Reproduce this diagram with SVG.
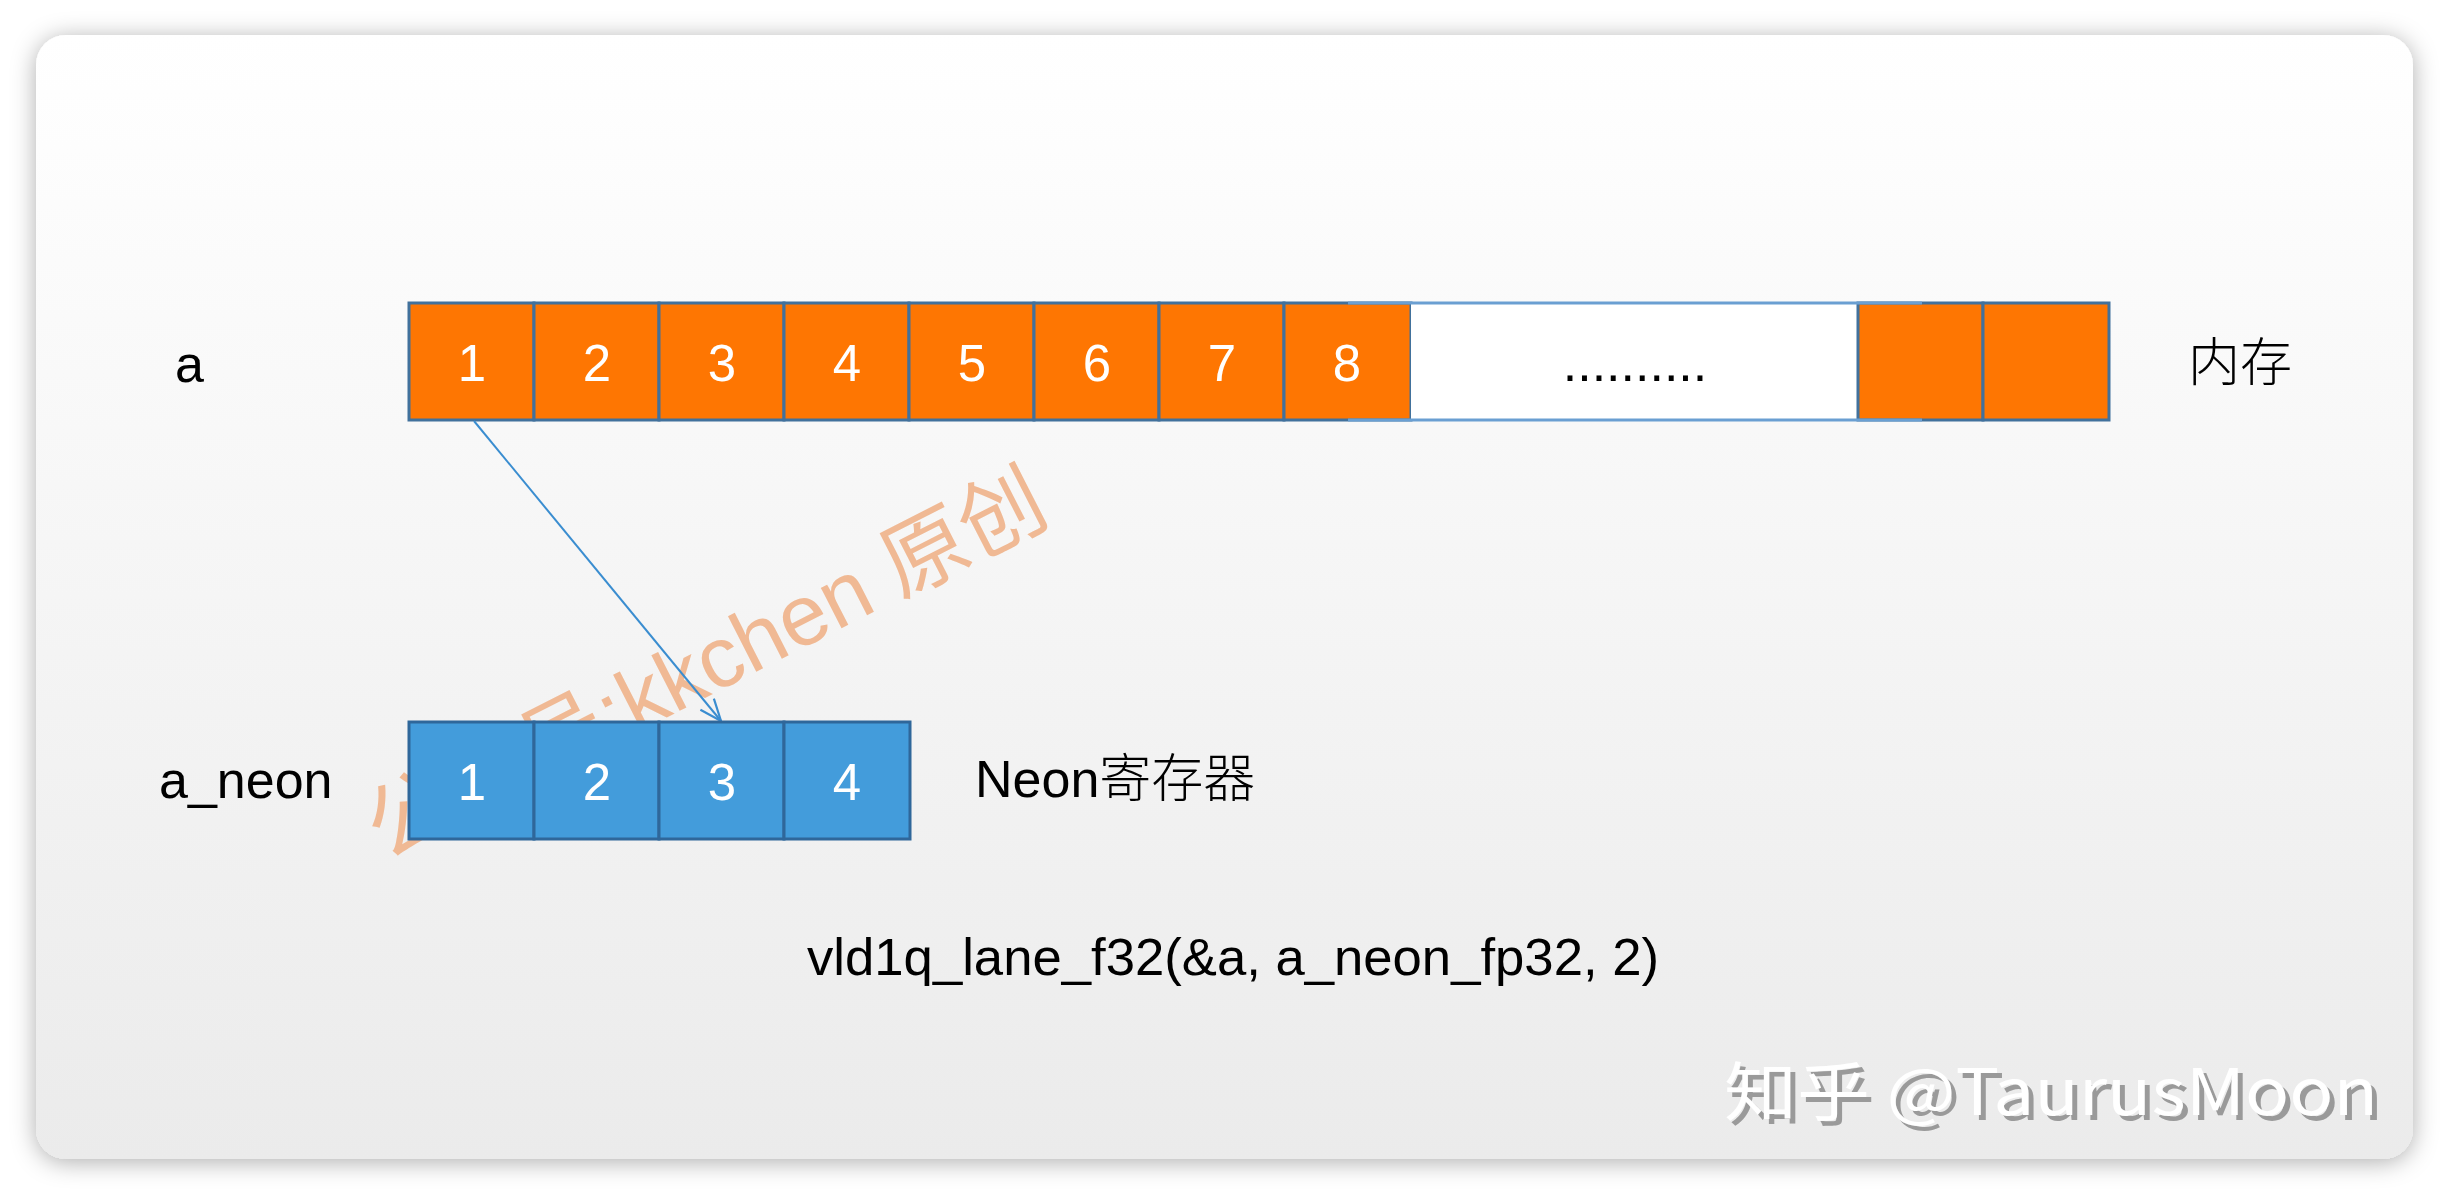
<svg xmlns="http://www.w3.org/2000/svg" width="2450" height="1196" viewBox="0 0 2450 1196">
<defs>
<linearGradient id="bg" x1="0" y1="0" x2="0" y2="1">
<stop offset="0" stop-color="#ffffff"/>
<stop offset="1" stop-color="#ebebeb"/>
</linearGradient>
<filter id="shadow" x="-5%" y="-10%" width="110%" height="120%">
<feDropShadow dx="0" dy="3" stdDeviation="12" flood-color="#000" flood-opacity="0.32"/>
</filter>
<filter id="tshadow" x="-5%" y="-20%" width="110%" height="140%">
<feDropShadow dx="5" dy="5" stdDeviation="0.6" flood-color="#9a9a9a" flood-opacity="1"/>
</filter>
<marker id="ah" markerUnits="userSpaceOnUse" markerWidth="24" markerHeight="20" viewBox="0 0 22 18" refX="21" refY="9" orient="auto">
<path d="M1,1 L21,9 L1,17" fill="none" stroke="#3a8dd0" stroke-width="2"/>
</marker>
<style>
.lbl{font-family:"Liberation Sans",Arial,"Noto Sans CJK SC",sans-serif;font-size:52px;fill:#000}
.num{font-family:"Liberation Sans",Arial,sans-serif;font-size:51px;fill:#fff;text-anchor:middle}
.or{fill:#fe7602;stroke:#41719c;stroke-width:3}
.bl{fill:#439cdb;stroke:#2f679a;stroke-width:3}
.cjk{font-family:"Noto Sans CJK SC",sans-serif;font-size:52px;font-weight:300;fill:#000}
.wm{font-family:"Liberation Sans",Arial,"Noto Sans CJK SC",sans-serif;font-size:86px;fill:#f0b994}
.zh{font-family:"Noto Sans CJK SC",sans-serif;font-size:64px}
</style>
</defs>
<rect x="0" y="0" width="2450" height="1196" fill="#ffffff"/>
<rect x="36" y="35" width="2377" height="1124" rx="30" ry="30" fill="url(#bg)" filter="url(#shadow)"/>

<g id="watermark">
<text class="wm" transform="translate(385,861) rotate(-27)">公众号:kkchen 原创</text>
</g>

<g id="memory">
<rect class="or" x="409" y="303" width="125" height="117"/>
<rect class="or" x="534" y="303" width="125" height="117"/>
<rect class="or" x="659" y="303" width="125" height="117"/>
<rect class="or" x="784" y="303" width="125" height="117"/>
<rect class="or" x="909" y="303" width="125" height="117"/>
<rect class="or" x="1034" y="303" width="125" height="117"/>
<rect class="or" x="1159" y="303" width="125" height="117"/>
<rect class="or" x="1284" y="303" width="127" height="117"/>
<rect x="1411" y="303" width="447" height="117" fill="#ffffff"/>
<rect class="or" x="1858" y="303" width="125" height="117"/>
<rect class="or" x="1983" y="303" width="126" height="117"/>
<path d="M1348,303 H1922 M1348,420 H1922" stroke="#6a9fd2" stroke-width="3" fill="none"/>
<text class="num" x="472" y="381">1</text>
<text class="num" x="597" y="381">2</text>
<text class="num" x="722" y="381">3</text>
<text class="num" x="847" y="381">4</text>
<text class="num" x="972" y="381">5</text>
<text class="num" x="1097" y="381">6</text>
<text class="num" x="1222" y="381">7</text>
<text class="num" x="1347" y="381">8</text>
<text class="lbl" x="1635" y="381" text-anchor="middle">..........</text>
</g>

<g id="label-a"><text class="lbl" x="175" y="382">a</text></g>
<g id="label-mem"><text class="cjk" x="2188" y="381">内存</text></g>

<g id="connectors">
<line x1="474" y1="421" x2="721" y2="721" stroke="#3a8dd0" stroke-width="2" marker-end="url(#ah)"/>
</g>

<g id="neon">
<rect class="bl" x="409" y="722" width="125" height="117"/>
<rect class="bl" x="534" y="722" width="125" height="117"/>
<rect class="bl" x="659" y="722" width="125" height="117"/>
<rect class="bl" x="784" y="722" width="126" height="117"/>
<text class="num" x="472" y="800">1</text>
<text class="num" x="597" y="800">2</text>
<text class="num" x="722" y="800">3</text>
<text class="num" x="847" y="800">4</text>
</g>

<g id="label-aneon"><text class="lbl" x="159" y="798">a_neon</text></g>
<g id="label-neonreg"><text class="lbl" x="975" y="797">Neon<tspan class="cjk">寄存器</tspan></text></g>

<g id="code"><text class="lbl" x="807" y="975" textLength="852" lengthAdjust="spacingAndGlyphs">vld1q_lane_f32(&amp;a, a_neon_fp32, 2)</text></g>

<g id="zhihu">
<text class="zh" x="1724" y="1115" fill="#ffffff" filter="url(#tshadow)" textLength="654" lengthAdjust="spacingAndGlyphs">知乎 @TaurusMoon</text>
</g>
</svg>
